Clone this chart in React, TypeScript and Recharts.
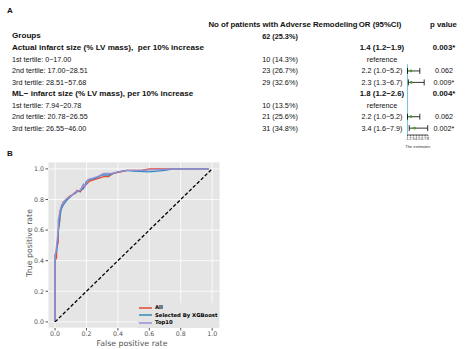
import React from 'react'
import {
  LineChart,
  Line,
  XAxis,
  YAxis,
  CartesianGrid,
  Legend,
  ScatterChart,
  Scatter,
  ErrorBar,
  ReferenceLine,
} from 'recharts'

// ---- table (panel A) ----
const headers = ['No of patients with Adverse Remodeling', 'OR (95%CI)', 'p value']
const groupLabels = [
  'Groups',
  'Actual infarct size (% LV mass),  per 10% increase',
  '1st tertile: 0\u221217.00',
  '2nd tertile: 17.00\u221228.51',
  '3rd tertile: 28.51\u221257.68',
  'ML\u2212 infarct size (% LV mass), per 10% increase',
  '1st tertile: 7.94\u221220.78',
  '2nd tertile: 20.78\u221226.55',
  '3rd tertile: 26.55\u221246.00',
]
const patients = ['62 (25.3%)', '', '10 (14.3%)', '23 (26.7%)', '29 (32.6%)', '', '10 (13.5%)', '21 (25.6%)', '31 (34.8%)']
const orText = ['', '1.4 (1.2\u22121.9)', 'reference', '2.2 (1.0\u22125.2)', '2.3 (1.3\u22126.7)', '1.8 (1.2\u22122.6)', 'reference', '2.2 (1.0\u22125.2)', '3.4 (1.6\u22127.9)']
const pValues = ['', '0.003*', '', '0.062', '0.009*', '0.004*', '', '0.062', '0.002*']
const boldRows = [0, 1, 5]

// forest plot rows (index into the table rows)
const forestRows = [3, 4, 7, 8]
const orEst = [2.2, 2.3, 2.2, 3.4]
const ciLow = [1.0, 1.3, 1.0, 1.6]
const ciHigh = [5.2, 6.7, 5.2, 7.9]
const estTicks = [1, 2, 3, 4, 5, 6, 7, 8]

// ---- ROC curves (panel B) ----
const rocAll = [
  [0, 0], [0, 0.4], [0.01, 0.42], [0.01, 0.48], [0.02, 0.52], [0.02, 0.6], [0.03, 0.66], [0.03, 0.72],
  [0.04, 0.74], [0.05, 0.78], [0.07, 0.8], [0.09, 0.82], [0.11, 0.83], [0.13, 0.84], [0.14, 0.86],
  [0.16, 0.85], [0.18, 0.88], [0.2, 0.9], [0.22, 0.92], [0.25, 0.93], [0.28, 0.94], [0.31, 0.95],
  [0.34, 0.95], [0.37, 0.97], [0.42, 0.98], [0.46, 0.99], [0.55, 0.99], [0.6, 1.0], [0.75, 1.0], [0.98, 1.0],
]
const rocXgb = [
  [0, 0], [0, 0.44], [0.01, 0.46], [0.02, 0.58], [0.03, 0.68], [0.04, 0.74], [0.05, 0.76], [0.07, 0.79],
  [0.1, 0.82], [0.12, 0.84], [0.16, 0.86], [0.18, 0.87], [0.2, 0.92], [0.22, 0.93], [0.26, 0.94],
  [0.3, 0.96], [0.34, 0.96], [0.4, 0.98], [0.45, 0.99], [0.5, 0.985], [0.6, 0.98], [0.7, 0.99], [0.75, 1.0], [0.98, 1.0],
]
const rocTop10 = [
  [0, 0], [0, 0.42], [0.01, 0.5], [0.02, 0.6], [0.02, 0.66], [0.03, 0.72], [0.04, 0.76], [0.06, 0.79],
  [0.08, 0.81], [0.1, 0.82], [0.13, 0.85], [0.16, 0.86], [0.18, 0.9], [0.19, 0.88], [0.21, 0.93],
  [0.24, 0.94], [0.27, 0.95], [0.31, 0.97], [0.36, 0.97], [0.4, 0.98], [0.46, 0.99], [0.55, 0.99],
  [0.65, 0.995], [0.75, 1.0], [0.98, 1.0],
]
const diagonal = [[0, 0], [1, 1]]
const rateTicks = [0, 0.2, 0.4, 0.6, 0.8, 1.0]

const toPts = (arr: number[][]) => arr.map(([x, y]) => ({ x, y }))

const ARIAL = '"Liberation Sans", Arial, sans-serif'
const DEJAVU = '"DejaVu Sans", sans-serif'
const ROW_Y0 = 36.5
const ROW_STEP = 11.5

const rowY = (i: number) => ROW_Y0 + ROW_STEP * i

const Txt = ({ x, y, size, bold, align = 'left', children }: any) => (
  <div
    style={{
      position: 'absolute',
      left: x,
      top: y - size / 2,
      fontSize: size,
      lineHeight: `${size}px`,
      fontWeight: bold ? 'bold' : 'normal',
      whiteSpace: 'pre',
      fontFamily: ARIAL,
      color: '#111',
      transform: align === 'center' ? 'translateX(-50%)' : undefined,
    }}
  >
    {children}
  </div>
)

const RocLegend = ({ payload }: any) => (
  <div style={{ background: '#e5e5e5', padding: '1px 2px', fontFamily: DEJAVU }}>
    {(payload || [])
      .filter((p: any) => p.type !== 'none')
      .map((p: any) => (
        <div key={p.value} style={{ display: 'flex', alignItems: 'center', height: 7.5, whiteSpace: 'nowrap' }}>
          <svg width={13} height={4} style={{ marginRight: 3, flex: 'none' }}>
            <line x1={0} y1={2} x2={13} y2={2} stroke={p.color} strokeWidth={1.5} />
          </svg>
          <span style={{ fontSize: 5.3, lineHeight: '7px', fontWeight: 'bold', color: '#000' }}>{p.value}</span>
        </div>
      ))}
  </div>
)

const ForestDot = (props: any) => <circle cx={props.cx} cy={props.cy} r={1.4} fill="#4f9a2d" />

export default function App() {
  const forestData = forestRows.map((r, i) => ({
    x: orEst[i],
    y: r,
    err: [orEst[i] - ciLow[i], ciHigh[i] - orEst[i]],
  }))

  return (
    <div style={{ position: 'absolute', left: 0, top: 0, width: 474, height: 349, background: '#fff', overflow: 'hidden' }}>
      <Txt x={7} y={11} size={8} bold>A</Txt>
      <Txt x={283} y={25} size={7.8} bold align="center">{headers[0]}</Txt>
      <Txt x={380} y={25} size={7.8} bold align="center">{headers[1]}</Txt>
      <Txt x={443.5} y={25} size={7.8} bold align="center">{headers[2]}</Txt>
      {groupLabels.map((g, i) => {
        const bold = boldRows.includes(i)
        const size = bold ? 7.8 : 7.2
        return (
          <React.Fragment key={i}>
            <Txt x={12} y={rowY(i)} size={bold ? 8.1 : 7.2} bold={bold}>{g}</Txt>
            <Txt x={280} y={rowY(i)} size={7.3} bold={i === 0} align="center">{patients[i]}</Txt>
            <Txt x={382} y={rowY(i)} size={size} bold={bold} align="center">{orText[i]}</Txt>
            <Txt x={444} y={rowY(i)} size={size} bold={bold} align="center">{pValues[i]}</Txt>
          </React.Fragment>
        )
      })}

      <div style={{ position: 'absolute', left: 400, top: 60 }}>
        <ScatterChart width={36} height={90} margin={{ top: 4.1, right: 8, bottom: 0, left: 7.5 }} style={{ fontFamily: ARIAL }}>
          <XAxis
            type="number"
            dataKey="x"
            domain={[1, 8]}
            ticks={estTicks}
            interval={0}
            height={15}
            tickSize={1.5}
            tickMargin={0.5}
            axisLine={{ stroke: '#000', strokeWidth: 0.7 }}
            tickLine={{ stroke: '#000', strokeWidth: 0.6 }}
            tick={{ fontSize: 4.3, fill: '#333' }}
            label={{ value: 'The estimates', position: 'insideBottom', offset: 2, fontSize: 4, fill: '#333' }}
          />
          <YAxis type="number" dataKey="y" domain={[2.4, 8.6]} reversed hide allowDataOverflow />
          <ReferenceLine x={1} stroke="#7cc3dc" strokeWidth={1.1} ifOverflow="visible" />
          <Scatter data={forestData} shape={ForestDot} isAnimationActive={false}>
            <ErrorBar dataKey="err" direction="x" width={3} stroke="#000" strokeWidth={0.8} />
          </Scatter>
        </ScatterChart>
      </div>

      <Txt x={7} y={153.5} size={8} bold>B</Txt>

      <div style={{ position: 'absolute', left: 0, top: 150 }}>
        <LineChart width={230} height={199} margin={{ top: 12, right: 10, bottom: 0, left: 18 }} style={{ fontFamily: DEJAVU }}>
          <CartesianGrid fill="#e5e5e5" stroke="#ffffff" strokeWidth={0.8} />
          <XAxis
            type="number"
            dataKey="x"
            domain={[-0.045, 1.05]}
            ticks={rateTicks}
            tickFormatter={(v: number) => v.toFixed(1)}
            allowDataOverflow
            height={21}
            tickSize={2.5}
            tickMargin={1}
            axisLine={false}
            tickLine={{ stroke: '#555' }}
            tick={{ fontSize: 6.3, fill: '#555' }}
          />
          <YAxis
            type="number"
            dataKey="y"
            domain={[-0.04, 1.045]}
            ticks={rateTicks}
            tickFormatter={(v: number) => v.toFixed(1)}
            allowDataOverflow
            width={30}
            tickSize={2.5}
            tickMargin={1.5}
            axisLine={false}
            tickLine={{ stroke: '#555' }}
            tick={{ fontSize: 6.3, fill: '#555' }}
          />
          <Line data={toPts(rocAll)} dataKey="y" name="All" stroke="#E24A33" strokeWidth={1.3} dot={false} isAnimationActive={false} />
          <Line data={toPts(rocXgb)} dataKey="y" name="Selected By XGBoost" stroke="#348ABD" strokeWidth={1.3} dot={false} isAnimationActive={false} />
          <Line data={toPts(rocTop10)} dataKey="y" name="Top10" stroke="#988ED5" strokeWidth={1.3} dot={false} isAnimationActive={false} />
          <Line data={toPts(diagonal)} dataKey="y" stroke="#000" strokeWidth={1.3} strokeDasharray="3.5 2" dot={false} legendType="none" isAnimationActive={false} />
          <Legend
            layout="vertical"
            align="center"
            verticalAlign="middle"
            content={<RocLegend />}
            wrapperStyle={{ left: 137, top: 153, width: 81 }}
          />
        </LineChart>
      </div>

      <div style={{ position: 'absolute', left: 132, top: 343, transform: 'translate(-50%, -50%)', fontSize: 7.8, color: '#555', fontFamily: DEJAVU, whiteSpace: 'pre' }}>
        False positive rate
      </div>
      <div style={{ position: 'absolute', left: 29, top: 243, transform: 'translate(-50%, -50%) rotate(-90deg)', fontSize: 7.8, color: '#555', fontFamily: DEJAVU, whiteSpace: 'pre' }}>
        True positive rate
      </div>
    </div>
  )
}
